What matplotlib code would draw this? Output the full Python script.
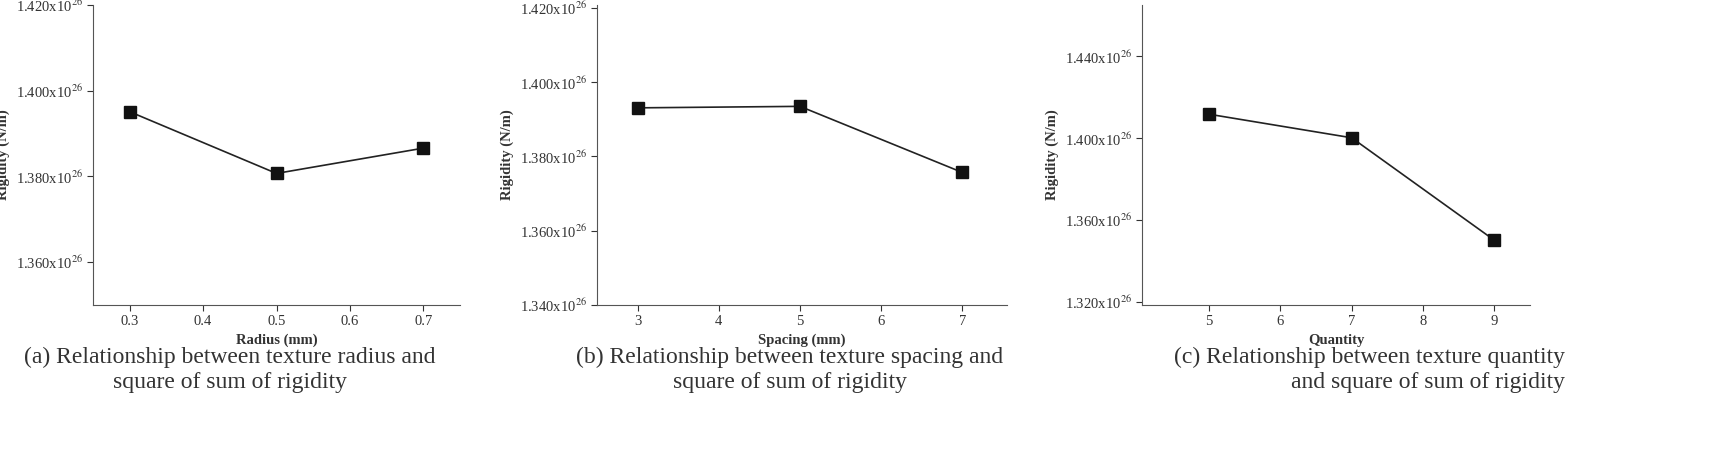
import matplotlib
matplotlib.use("Agg")
import matplotlib.pyplot as plt
from matplotlib.ticker import FuncFormatter

plt.rcParams['font.family'] = ['Liberation Serif', 'DejaVu Serif']
plt.rcParams['mathtext.fontset'] = 'stix'

radius = [0.3, 0.5, 0.7]
rig_radius = [1.3951, 1.3807, 1.3866]
spacing = [3, 5, 7]
rig_spacing = [1.3931, 1.3935, 1.3757]
quantity = [5, 7, 9]
rig_quantity = [1.4117, 1.4002, 1.3502]

xlabels = ['Radius (mm)', 'Spacing (mm)', 'Quantity']
captions = ['(a) Relationship between texture radius and\nsquare of sum of rigidity',
            '(b) Relationship between texture spacing and\nsquare of sum of rigidity',
            '(c) Relationship between texture quantity\nand square of sum of rigidity']

fig = plt.figure(figsize=(17.2, 4.71), dpi=100)
specs = [
    dict(rect=[93/1720, 166/471, 367/1720, 300/471], x=radius, y=rig_radius,
         xlim=(0.25, 0.75), ylim=(1.350, 1.420), yt=[1.36, 1.38, 1.40, 1.42],
         xt=[0.3, 0.4, 0.5, 0.6, 0.7], xf='%.1f'),
    dict(rect=[597/1720, 166/471, 410/1720, 300/471], x=spacing, y=rig_spacing,
         xlim=(2.5, 7.55), ylim=(1.340, 1.4208), yt=[1.34, 1.36, 1.38, 1.40, 1.42],
         xt=[3, 4, 5, 6, 7], xf='%d'),
    dict(rect=[1142/1720, 166/471, 388/1720, 300/471], x=quantity, y=rig_quantity,
         xlim=(4.06, 9.5), ylim=(1.3186, 1.465), yt=[1.32, 1.36, 1.40, 1.44],
         xt=[5, 6, 7, 8, 9], xf='%d'),
]
for i, s in enumerate(specs):
    ax = fig.add_axes(s['rect'])
    ax.plot(s['x'], s['y'], color='#222222', lw=1.2, marker='s', ms=8,
            markerfacecolor='#111111', markeredgecolor='#111111')
    ax.set_xlim(*s['xlim']); ax.set_ylim(*s['ylim'])
    ax.set_yticks(s['yt']); ax.set_xticks(s['xt'])
    ax.yaxis.set_major_formatter(FuncFormatter(lambda v, p: r'%.3fx10$^{26}$' % v))
    fmt = s['xf']
    ax.xaxis.set_major_formatter(FuncFormatter(lambda v, p, f=fmt: f % v))
    for sp in ['top', 'right']:
        ax.spines[sp].set_visible(False)
    for sp in ['left', 'bottom']:
        ax.spines[sp].set_color('#555555')
    ax.tick_params(direction='out', labelsize=10.5, colors='#333333', length=4)
    ax.set_xlabel(xlabels[i], fontsize=10.5, fontweight='bold', color='#333333')
    ax.set_ylabel('Rigidity (N/m)', fontsize=10.5, fontweight='bold', color='#333333')

fig.text(230/1720, 1 - 370/471, captions[0], ha='center', va='center', fontsize=17, color='#333333')
fig.text(790/1720, 1 - 370/471, captions[1], ha='center', va='center', fontsize=17, color='#333333')
fig.text(1565/1720, 1 - 370/471, captions[2], ha='right', va='center', fontsize=17, color='#333333', multialignment='right')

fig.savefig('out.png', dpi=100)
